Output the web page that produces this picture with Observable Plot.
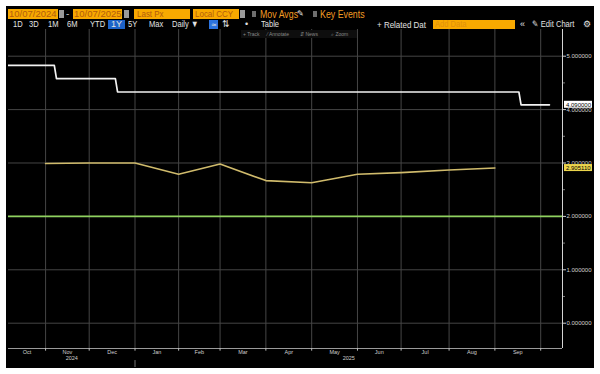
<!DOCTYPE html>
<html>
<head>
<meta charset="utf-8">
<script src="https://cdn.jsdelivr.net/npm/d3@7"></script>
<script src="https://cdn.jsdelivr.net/npm/@observablehq/plot@0.6"></script>
<style>
  html,body{margin:0;padding:0;background:#fff;}
  body{width:600px;height:374px;overflow:hidden;position:relative;font-family:"Liberation Sans",Arial,sans-serif;}
  #panel{position:absolute;left:6px;top:6px;width:588px;height:362px;background:#000;}
  #chart{position:absolute;left:0;top:29px;}
  .t{position:absolute;white-space:nowrap;line-height:1;}
  .n{display:inline-block;transform:scaleX(.84);transform-origin:0 50%;}
  .box{background:#f8a900;color:#b25c0c;font-size:9.5px;line-height:10px;height:10px;box-sizing:border-box;padding-left:1px;overflow:hidden;}
  .ico{width:5px;height:8px;background:#9a9a9a;}
  .sq{width:4px;height:6px;background:#6e6e6e;}
  .r2{top:20px;font-size:9px;line-height:9px;color:#e2e2e2;}
  .r3{top:31px;font-size:5px;line-height:6px;color:#8a8a8a;}
</style>
</head>
<body>
<div id="panel"></div>
<div id="chart"></div>

<!-- toolbar row 1 -->
<div class="t box" style="left:8px;top:9px;width:50px;">10/07/2024</div>
<div class="t ico" style="left:59px;top:10px;"></div>
<div class="t" style="left:66px;top:9px;color:#bbb;font-size:10px;">-</div>
<div class="t box" style="left:73px;top:9px;width:49px;">10/07/2025</div>
<div class="t ico" style="left:124px;top:10px;"></div>
<div class="t box" style="left:134px;top:9px;width:56px;padding-left:3px;"><span class="n">Last Px</span></div>
<div class="t box" style="left:193px;top:9px;width:46px;padding-left:2px;"><span class="n">Local CCY</span></div>
<div class="t ico" style="left:240px;top:10px;"></div>
<div class="t sq" style="left:252px;top:11px;"></div>
<div class="t" style="left:260px;top:8.5px;color:#f39c24;font-size:10.5px;"><span class="n">Mov Avgs</span></div>
<div class="t" style="left:297px;top:10px;color:#e6e6e6;font-size:8px;">✎</div>
<div class="t sq" style="left:313px;top:11px;"></div>
<div class="t" style="left:320px;top:8.5px;color:#f39c24;font-size:10.5px;"><span class="n">Key Events</span></div>

<!-- toolbar row 2 -->
<div class="t r2" style="left:13px;"><span class="n">1D</span></div>
<div class="t r2" style="left:29px;"><span class="n">3D</span></div>
<div class="t r2" style="left:48px;"><span class="n">1M</span></div>
<div class="t r2" style="left:67px;"><span class="n">6M</span></div>
<div class="t r2" style="left:90px;"><span class="n">YTD</span></div>
<div class="t r2" style="left:108px;width:17px;height:9px;background:#1c63c9;text-align:center;">1Y</div>
<div class="t r2" style="left:128px;"><span class="n">5Y</span></div>
<div class="t r2" style="left:149px;"><span class="n">Max</span></div>
<div class="t r2" style="left:172px;"><span class="n">Daily ▼</span></div>
<div class="t r2" style="left:209px;width:9px;height:9px;background:#2c74e0;text-align:center;font-size:7px;">≃</div>
<div class="t r2" style="left:222px;">⇅</div>
<div class="t r2" style="left:245px;">•</div>
<div class="t r2" style="left:261px;"><span class="n">Table</span></div>
<div class="t r2" style="left:377px;font-size:9.5px;"><span class="n">+ Related Dat</span></div>
<div class="t box r2" style="left:433px;width:82px;height:9px;color:#e0900c;font-size:9px;padding-left:2px;"><span class="n">Add Data</span></div>
<div class="t r2" style="left:520px;">«</div>
<div class="t r2" style="left:532px;"><span class="n">✎ Edit Chart</span></div>
<div class="t r2" style="left:583px;">⚙</div>

<!-- toolbar row 3 -->
<div class="t" style="left:241px;top:30px;width:116px;height:8px;background:#0e0e0e;"></div>
<div class="t r3" style="left:243px;">+ Track</div>
<div class="t r3" style="left:267px;">⁄ Annotate</div>
<div class="t r3" style="left:300px;">⇵ News</div>
<div class="t r3" style="left:331px;">⌕ Zoom</div>

<script>
// ---- data ----
const marketHolidays = ["2024-11-28","2024-12-25","2025-01-01","2025-01-09","2025-01-20",
  "2025-02-17","2025-04-18","2025-05-26","2025-06-19","2025-07-04","2025-09-01"];
const viewStart = "2024-10-09";
const viewEnd = "2025-10-15";

// white series (effective rate), change points
const fedDates  = ["2024-10-07","2024-11-07","2024-11-08","2024-12-18","2024-12-19","2025-09-17","2025-09-18","2025-10-07"];
const fedValues = [4.83, 4.83, 4.58, 4.58, 4.33, 4.33, 4.09, 4.09];

// yellow series (monthly)
const inflDates  = ["2024-11-01","2024-12-01","2025-01-01","2025-02-01","2025-03-01","2025-04-01",
  "2025-05-01","2025-06-01","2025-07-01","2025-08-01","2025-09-01"];
const inflValues = [2.99, 3.00, 3.00, 2.79, 2.98, 2.67, 2.63, 2.79, 2.82, 2.87, 2.90511];

// green series (target)
const targetValue = [2.0];

const yTicks = [0, 1, 2, 3, 4, 5];
const yMinorTicks = [0.5, 1.5, 2.5, 3.5, 4.5];
const monthStarts = ["2024-10-01","2024-11-01","2024-12-01","2025-01-01","2025-02-01","2025-03-01",
  "2025-04-01","2025-05-01","2025-06-01","2025-07-01","2025-08-01","2025-09-01","2025-10-01"];
const monthNames = ["Oct","Nov","Dec","Jan","Feb","Mar","Apr","May","Jun","Jul","Aug","Sep"];
const yearStarts = ["2024-01-01","2025-01-01","2026-01-01"];
const yearNames = ["2024","2025"];

// ---- trading-day axis ----
const hol = new Set(marketHolidays);
const fmt = d3.utcFormat("%Y-%m-%d");
const tradingDays = d3.utcDay.range(new Date("2024-10-07"), new Date("2025-12-01"))
  .filter(d => { const w = d.getUTCDay(); return w !== 0 && w !== 6 && !hol.has(fmt(d)); });
const tIndex = s => d3.bisectLeft(tradingDays, new Date(s));

const xStart = tIndex(viewStart), xEnd = tIndex(viewEnd);
const clampX = v => Math.max(xStart, Math.min(xEnd, v));

const fed = fedDates.map((d, i) => ({t: tIndex(d), v: fedValues[i]}));
const infl = inflDates.map((d, i) => ({t: tIndex(d), v: inflValues[i]}));
const gridIdx = monthStarts.map(tIndex).filter(v => v > xStart && v < xEnd);
const monthLabels = monthNames.map((m, i) => ({
  t: (clampX(tIndex(monthStarts[i])) + clampX(tIndex(monthStarts[i + 1]))) / 2, label: m}));
const yearLabels = yearNames.map((y, i) => ({
  t: (clampX(tIndex(yearStarts[i])) + clampX(tIndex(yearStarts[i + 1]))) / 2, label: y}));
const yearSeps = yearStarts.map(tIndex).filter(v => v > xStart && v < xEnd);

const yLo = -0.474, yHi = 5.5;
const lastFed = [fedValues[fedValues.length - 1]];
const lastInfl = [inflValues[inflValues.length - 1]];

const chart = Plot.plot({
  width: 600, height: 339,
  marginLeft: 8, marginRight: 38, marginTop: 0, marginBottom: 20,
  style: {background: "transparent", color: "#cfcfcf", fontFamily: '"Liberation Sans",Arial,sans-serif', overflow: "visible"},
  x: {domain: [xStart, xEnd], axis: null},
  y: {domain: [yLo, yHi], label: null},
  marks: [
    Plot.ruleY(yTicks, {stroke: "#454545", strokeWidth: 1}),
    Plot.ruleX(gridIdx, {stroke: "#454545", strokeWidth: 1}),
    Plot.ruleY(targetValue, {stroke: "#8fd15f", strokeWidth: 1.6}),
    Plot.line(infl, {x: "t", y: "v", stroke: "#d0bb6c", strokeWidth: 1.6, clip: true}),
    Plot.line(fed, {x: "t", y: "v", stroke: "#f2f2f2", strokeWidth: 1.7, clip: true}),
    // axes lines
    Plot.ruleX([xEnd], {stroke: "#d4d4d4", strokeWidth: 1}),
    Plot.ruleY([yLo], {stroke: "#9a9a9a", strokeWidth: 1}),
    Plot.ruleX(gridIdx, {y1: yLo, y2: yLo - 0.05, stroke: "#bbb"}),
    Plot.ruleX(yearSeps, {y1: -0.70, y2: -0.83, stroke: "#777"}),
    // y axis
    Plot.axisY(yMinorTicks, {anchor: "right", tickSize: 2, tickFormat: () => "", color: "#777", label: null}),
    Plot.axisY(yTicks, {anchor: "right", tickSize: 3, tickPadding: 1, fontSize: 6,
      tickFormat: d => d.toFixed(6), color: "#d0d0d0", label: null}),
    // x labels
    Plot.text(monthLabels, {x: "t", text: "label", frameAnchor: "bottom", dy: 5, fontSize: 5.5, fill: "#cfcfcf"}),
    Plot.text(yearLabels, {x: "t", text: "label", frameAnchor: "bottom", dy: 11.5, fontSize: 5.5, fill: "#cfcfcf"}),
    // last value tags
    Plot.rect(lastFed, {x1: () => xEnd, x2: () => xEnd, y1: d => d, y2: d => d,
      insetLeft: 2, insetRight: -30, insetTop: -3.5, insetBottom: -3.5, fill: "#ffffff"}),
    Plot.text(lastFed, {x: () => xEnd, y: d => d, text: d => d.toFixed(6), textAnchor: "start",
      dx: 3.5, fontSize: 6, fill: "#000"}),
    Plot.rect(lastInfl, {x1: () => xEnd, x2: () => xEnd, y1: d => d, y2: d => d,
      insetLeft: 2, insetRight: -30, insetTop: -3.5, insetBottom: -3.5, fill: "#ecd54c"}),
    Plot.text(lastInfl, {x: () => xEnd, y: d => d, text: d => d.toFixed(6), textAnchor: "start",
      dx: 3.5, fontSize: 6, fill: "#000"})
  ]
});
document.getElementById("chart").appendChild(chart);
</script>
</body>
</html>
